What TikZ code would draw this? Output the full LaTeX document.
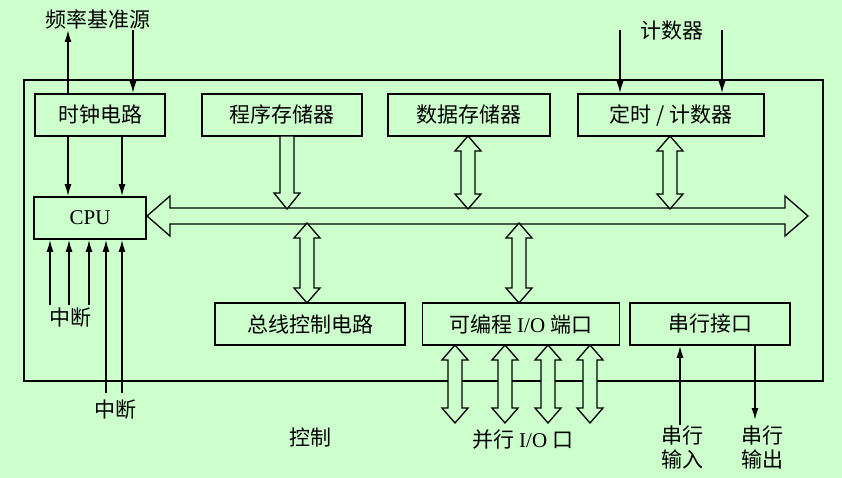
\documentclass[tikz,border=0pt]{standalone}
\usepackage{fontspec}
\setmainfont{Liberation Serif}
\newfontfamily\cjk{Noto Sans CJK SC}
\begin{document}
\begin{tikzpicture}[x=1pt,y=-1pt,line width=1.6pt,
  box/.style={draw,rectangle,inner sep=0pt,font=\cjk\fontsize{21}{21}\selectfont},
  lab/.style={font=\cjk\fontsize{21}{24}\selectfont,align=center,inner sep=0pt},
  ar/.style={-{Latex[length=12pt,width=7pt]}}]
\usetikzlibrary{arrows.meta}
\definecolor{bg}{HTML}{CCFFCC}
\fill[bg] (0,0) rectangle (842,478);
\useasboundingbox (0,0) rectangle (842,478);
\newcommand{\vdarr}[3]{\draw[fill=bg,line width=1.3pt] (#1,#2) -- (#1-13,#2+15) -- (#1-7,#2+15) -- (#1-7,#3-15) -- (#1-13,#3-15) -- (#1,#3) -- (#1+13,#3-15) -- (#1+7,#3-15) -- (#1+7,#2+15) -- (#1+13,#2+15) -- cycle;}
\draw (24,80) rectangle (823,381);
\node[box,minimum width=130pt,minimum height=42pt] (clk) at (100,115) {时钟电路};
\node[box,minimum width=160pt,minimum height=42pt] (prog) at (282,115) {程序存储器};
\node[box,minimum width=162pt,minimum height=42pt] (data) at (469,115) {数据存储器};
\node[box,minimum width=186pt,minimum height=42pt] (tim) at (671,115) {定时 / 计数器};
\node[box,minimum width=112pt,minimum height=42pt,font=\fontsize{21}{21}\selectfont] (cpu) at (90,218) {CPU};
\node[box,minimum width=190pt,minimum height=42pt] (busc) at (310,324) {总线控制电路};
\node[box,minimum width=197pt,minimum height=42pt] (io) at (521,324) {可编程 \rmfamily I/O \cjk 端口};
\node[box,minimum width=160pt,minimum height=42pt] (ser) at (710,324) {串行接口};
% bus
\draw[fill=bg,line width=1.3pt] (147,216) -- (170,196) -- (170,208) -- (785,208) -- (785,196) -- (808,216) -- (785,236) -- (785,224) -- (170,224) -- (170,236) -- cycle;
% program memory one-way
\draw[fill=bg,line width=1.3pt] (280,136) -- (294,136) -- (294,193) -- (300,193) -- (287,209) -- (274,193) -- (280,193) -- cycle;
\vdarr{468}{136}{209}
\vdarr{670}{136}{209}
\vdarr{307}{223}{303}
\vdarr{519}{223}{303}
\vdarr{455}{345}{423}
\vdarr{505}{345}{423}
\vdarr{548}{345}{423}
\vdarr{590}{345}{423}
% labels
\node[lab] (freq) at (98,19) {频率基准源};
\node[lab] (cnt) at (672,31) {计数器};
\node[lab] (int1) at (70,318) {中断};
\node[lab] (int2) at (115,410) {中断};
\node[lab] (ctl) at (310,437) {控制};
\node[lab] (pio) at (523,440) {并行 \rmfamily I/O \cjk 口};
\node[lab] (sin) at (682,447) {串行\\输入};
\node[lab] (sout) at (762,447) {串行\\输出};
% thin arrows
\coordinate (f1) at (68,30); \coordinate (f2) at (133,30);
\draw[ar] (clk.north -| f1) -- (f1);
\draw[ar] (f2) -- (clk.north -| f2);
\coordinate (c1) at (68,0); \coordinate (c2) at (122,0);
\draw[ar] (clk.south -| c1) -- (cpu.north -| c1);
\draw[ar] (clk.south -| c2) -- (cpu.north -| c2);
\coordinate (t1) at (620,30); \coordinate (t2) at (722,30);
\draw[ar] (t1) -- (tim.north -| t1);
\draw[ar] (t2) -- (tim.north -| t2);
\foreach \x in {50,69,89} {\coordinate (i) at (\x,305); \draw[ar] (i) -- (cpu.south -| i);}
\foreach \x in {106,122} {\coordinate (i) at (\x,393); \draw[ar] (i) -- (cpu.south -| i);}
\coordinate (s1) at (680,425); \draw[ar] (s1) -- (ser.south -| s1);
\coordinate (s2) at (755,420); \draw[ar] (ser.south -| s2) -- (s2);
\end{tikzpicture}
\end{document}
